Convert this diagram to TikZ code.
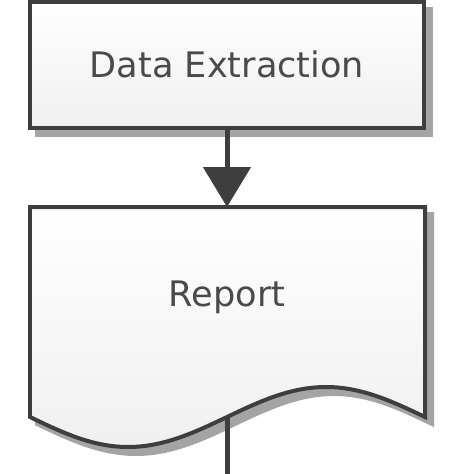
\documentclass[tikz,border=0pt]{standalone}
\usepackage{fontspec}
\setmainfont{DejaVu Sans}
\usetikzlibrary{arrows.meta}

\definecolor{edgegray}{HTML}{3E3E3E}
\definecolor{shadowgray}{HTML}{A4A4A4}
\definecolor{textgray}{HTML}{4A4A4A}

\begin{document}
\begin{tikzpicture}[x=0.02cm, y=-0.02cm,
    boxline/.style={draw=edgegray, line width=0.08cm},
    boxfill/.style={top color=white, bottom color=gray!12},
    boxshadow/.style={fill=shadowgray, draw=shadowgray, line width=0.08cm},
    labeltext/.style={text=textgray, font=\fontsize{20}{24}\selectfont},
    flowline/.style={draw=edgegray, line width=0.1cm},
    flowarrow/.style={flowline, -{Triangle[length=0.8cm, width=0.94cm]}}]

\useasboundingbox (0,0) rectangle (474,474);

% Data Extraction box
\fill[boxshadow] (37,9) rectangle (431,135);
\node[boxline, boxfill, minimum width=7.88cm, minimum height=2.52cm, inner sep=0pt]
    (extract) at (227,65) {};
\node[labeltext] (extractlabel) at (227,64) {Data Extraction};

% Report document
\coordinate (doctop) at (227,207);
\coordinate (docout) at (227,417);
\coordinate (exit)   at (227,474);

\filldraw[boxshadow] (37,214) -- (432,214) -- (432,424)
    sin (334,394) cos (235,424) sin (136,454) cos (37,424) -- cycle;
\draw[boxline, boxfill] (30,207) -- (425,207) -- (425,417)
    sin (326,387) cos (227,417) sin (128,447) cos (30,417) -- cycle;
\node[labeltext] (report) at (227,297) {Report};

\draw[flowarrow] (extract.south) -- (doctop);
\draw[flowline] (docout) -- (exit);

\end{tikzpicture}
\end{document}
